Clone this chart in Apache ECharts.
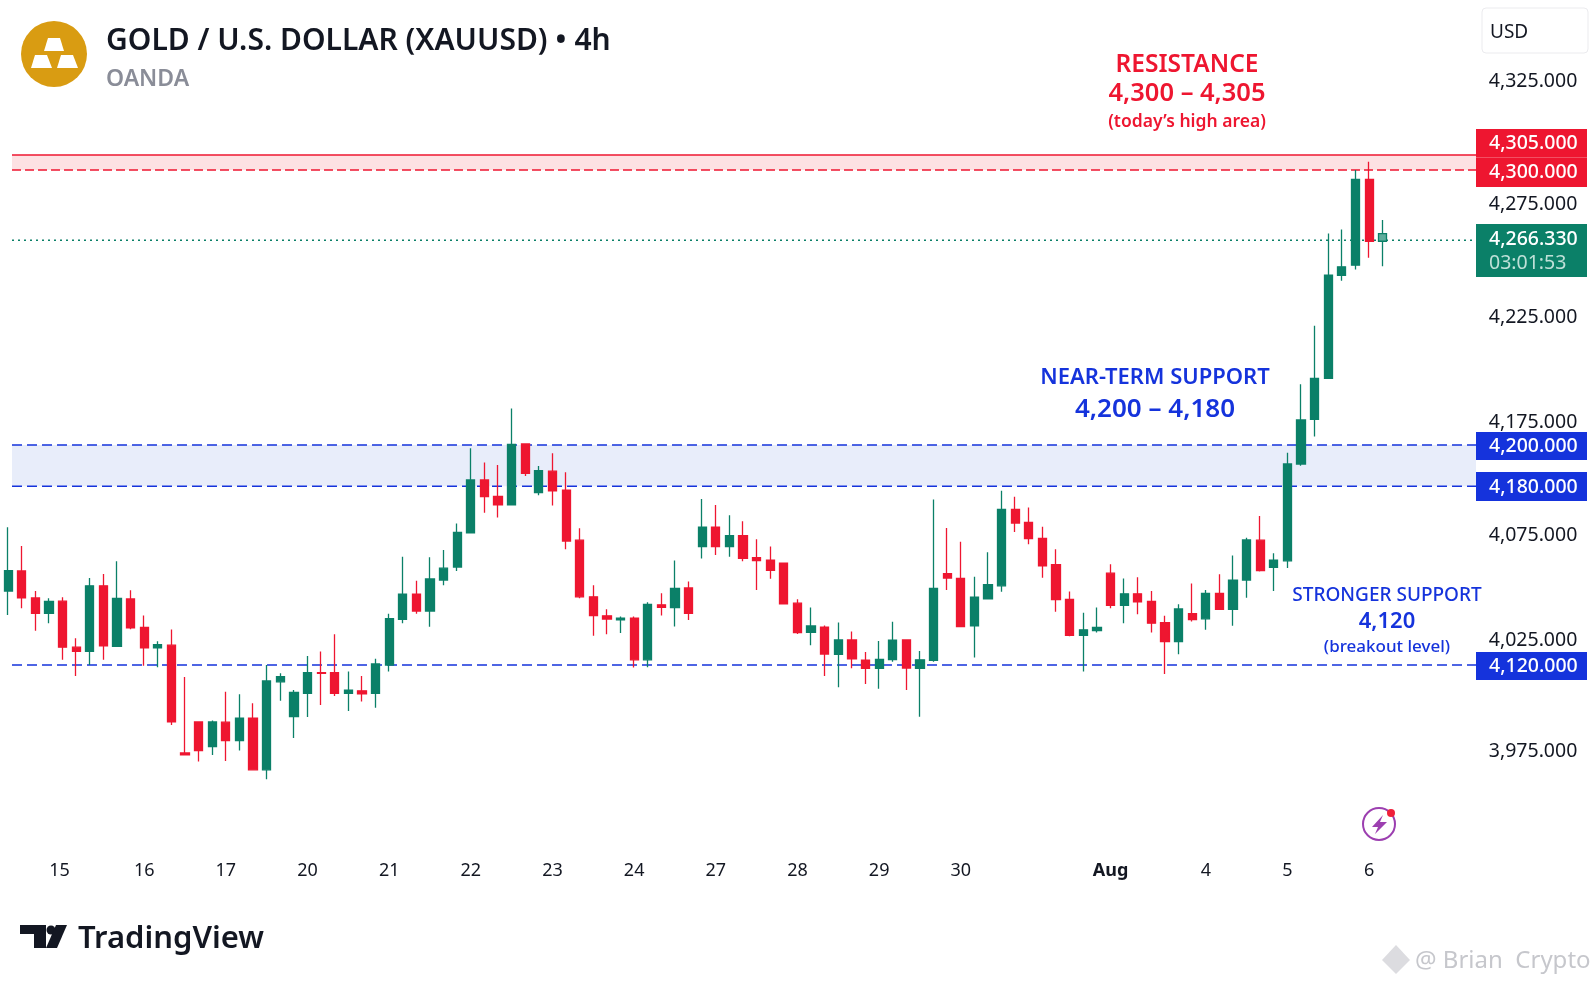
<!DOCTYPE html>
<html><head><meta charset="utf-8">
<style>html,body{margin:0;padding:0;background:#fff}#c{width:1596px;height:985px}</style>
<script src="https://cdn.jsdelivr.net/npm/echarts@6/dist/echarts.min.js"></script>
</head><body><div id="c"></div>
<script>
const opens=[4146.9,4154.2,4144.4,4138.8,4143.2,4126.5,4125,4148.8,4126.8,4144,4133.7,4126.2,4127.2,4088,4099.3,4090.3,4099.2,4092.5,4100.7,4081.9,4113.9,4101.2,4109.7,4117.2,4117.2,4109.7,4110.6,4109.7,4120,4136.6,4145.8,4139.6,4150.9,4155.6,4168.1,4187.3,4181.3,4178.2,4200.4,4182.7,4190.5,4183.6,4165.4,4144.8,4137.9,4136.4,4137,4121.9,4141.9,4140.9,4148,4163.1,4170.1,4163.1,4167,4159,4158.1,4157,4142.5,4131.9,4133.8,4123.9,4129.1,4121.8,4118.8,4122,4129.1,4118.8,4121.7,4153.2,4151.5,4134.2,4144.1,4148.8,4176.6,4171.9,4166,4156.5,4143.9,4130.8,4132.5,4153.4,4141.7,4145.9,4143.1,4135.4,4128.5,4138.7,4136.8,4146,4140.2,4150.9,4165.4,4155.5,4157.9,4193.1,4209.3,4224.2,4261.7,4265.4,4296.6,4274.1];
const closes=[4154.3,4144.4,4138.8,4143.1,4126.5,4125,4148.8,4127,4144.2,4133.5,4126.2,4127.4,4099.3,4087.3,4088.9,4099.3,4092.5,4100.7,4081.9,4114.2,4115.8,4110,4117.2,4117,4109.7,4110.9,4109.5,4120.4,4136.9,4145.8,4139.6,4151.3,4155.2,4168.2,4187.3,4181.2,4178.2,4200.2,4189.7,4190.7,4183.3,4165.1,4144.8,4138,4136.7,4137,4121.9,4142,4141,4147.9,4138.8,4170.1,4163.1,4167,4158.8,4158,4154.4,4142.2,4131.8,4134.2,4124,4129.1,4122.2,4118.8,4122,4129,4118.9,4121.9,4147.9,4151.6,4134,4144.7,4149.2,4176.6,4171.6,4166,4156.1,4143.8,4130.8,4132.8,4133.7,4141.7,4145.9,4143,4135.2,4128.5,4140.4,4136.5,4146,4140.2,4150.9,4165.5,4154.3,4158.1,4193.1,4209.1,4224.2,4261.8,4264.8,4296.6,4274.1,4276.9];
const lows=[4138.2,4140.6,4132.5,4135.2,4121.9,4116,4120,4121.9,4126.7,4133,4119.7,4119.2,4098.2,4087.3,4084.9,4087.3,4085.1,4088.9,4081.9,4078.5,4107,4093.5,4101.1,4105.5,4108.7,4103.3,4106.7,4104.5,4117.6,4135.2,4138.6,4133.9,4149,4154.2,4167.8,4175.4,4173.6,4178.2,4188.7,4181.7,4178,4162.1,4144.3,4130.6,4131.2,4131.6,4119.1,4119.2,4138,4134,4136.4,4158.7,4160,4159.4,4157.7,4147.3,4151.4,4142.2,4131.3,4127.2,4116,4111.9,4118.8,4113.1,4111.4,4121.2,4110.9,4101.2,4121.2,4147.3,4133.8,4122.7,4143.9,4146.6,4168.4,4163.9,4151.7,4139.4,4130.5,4117.6,4131.8,4140.6,4135.2,4138.5,4131.8,4116.7,4123.9,4135.8,4132.8,4140,4134.3,4144.5,4154,4146.9,4155.3,4192.5,4203.1,4224,4259.7,4263.8,4268.1,4265];
const highs=[4170.1,4163.3,4146.9,4144.3,4144.6,4129.7,4151.6,4153.1,4157.7,4147.2,4138,4128.6,4132.9,4115.6,4099.3,4099.8,4110.3,4109.4,4106.1,4120,4117,4110.9,4123.3,4124.9,4131.2,4117.6,4116,4122.3,4138.6,4159.4,4150.6,4159.2,4161.8,4171.5,4198.8,4193.6,4192.7,4213.3,4200.4,4192.4,4197,4190.1,4169.7,4149,4140.3,4137.6,4137.6,4142.8,4146.1,4158,4150.4,4180.4,4178.2,4174.5,4172.3,4165.7,4163.1,4157.3,4143.9,4140.9,4134.4,4135.5,4132.2,4124.7,4128.7,4135.7,4129.1,4125.1,4180.2,4169.8,4164.8,4152.1,4161,4183.4,4181.2,4177.3,4170.3,4162.1,4146.7,4139,4140.9,4156.6,4151.5,4151.9,4146.9,4137.9,4142.1,4149.6,4147.3,4153,4159.8,4166.3,4174.2,4160.6,4197.2,4222.1,4243.4,4276.9,4278.4,4300,4303,4281.8];

// The reference's printed price labels are not evenly spaced against its levels,
// so each label keeps its printed text and the scale height where it is shown.
const tickTexts=['4,325.000','4,275.000','4,225.000','4,175.000','4,075.000','4,025.000','3,975.000'];
const tickHeights=[4332.2,4287.3,4246.3,4208.1,4167.2,4129,4088.4];
const levelTexts=['4,305.000','4,300.000','4,266.330','4,200.000','4,180.000','4,120.000'];
const levelHeights=[4305.5,4300,4274.5,4200,4185,4120];
const zoneHeights=[[4305.5,4300],[4200,4185]];

const dayIndex=[4,10,16,22,28,34,40,46,52,58,64,70,81,88,94,100];
const dayTexts=['15','16','17','20','21','22','23','24','27','28','29','30','Aug','4','5','6'];
const slotCount=109;
const categories=[];for(let i=0;i<slotCount;i++){const k=dayIndex.indexOf(i);categories.push(k>=0?dayTexts[k]:'c'+i);}

const FONT='"Noto Sans"';
const RED='#ee1630',GREEN='#0b8068',BLUE='#1533dc',TEXT='#131722';
const levelStyle=[
 {c:RED,dash:null,fill:RED,top:129,h:28.5,ty:143.5},
 {c:RED,dash:[9,4],fill:RED,top:157.5,h:29.5,ty:172.5},
 {c:GREEN,dash:[2,4],fill:GREEN,top:224,h:53,ty:239,sub:'03:01:53'},
 {c:BLUE,dash:[10,5],fill:BLUE,top:432,h:28,ty:446.5},
 {c:BLUE,dash:[10,5],fill:BLUE,top:472,h:29,ty:487},
 {c:BLUE,dash:[10,5],fill:BLUE,top:652,h:28,ty:666.5}
];
const LINE_L=12,TAG_L=1476,TAG_W=111;

const candles=opens.map((o,i)=>{const v=[o,closes[i],lows[i],highs[i]];
  return i===opens.length-1?{value:v,itemStyle:{color:'#5fae9d'}}:v;});
const chart=echarts.init(document.getElementById('c'),null,{renderer:'canvas'});
function txt(text,x,y,size,fill,weight,align){return {type:'text',silent:true,style:{text,x,y:y+2,fill,font:(weight||400)+' '+size+'px '+FONT,textAlign:align||'center',textVerticalAlign:'middle'}};}

chart.setOption({
 animation:false,backgroundColor:'#fff',
 grid:{left:1.3,width:slotCount*13.61,top:32.5,height:825},
 xAxis:{type:'category',data:categories,boundaryGap:true,axisLine:{show:false},axisTick:{show:false},splitLine:{show:false},
  axisLabel:{interval:(i)=>dayIndex.indexOf(i)>=0,margin:4,hideOverlap:false,fontFamily:FONT,fontSize:18,color:TEXT,
   formatter:(v)=>v==='Aug'?'{b|Aug}':(v==='15'?'{a|15}':v),
   rich:{b:{fontFamily:FONT,fontSize:18,fontWeight:700,color:TEXT},a:{fontFamily:FONT,fontSize:18,color:TEXT,padding:[0,6,0,0]}}}},
 yAxis:{type:'value',min:4050,max:4350,position:'right',scale:true,axisLine:{show:false},axisTick:{show:false},splitLine:{show:false},
  axisLabel:{customValues:tickHeights,margin:4,align:'left',fontFamily:FONT,fontSize:19.5,color:TEXT,
   formatter:(v)=>{const k=tickHeights.indexOf(v);return k>=0?tickTexts[k]:'';}}},
 series:[
  {type:'custom',name:'zones',z:1,clip:false,silent:true,encode:{x:0,y:1},
   data:zoneHeights.map((z,i)=>[0,z[0],z[1],i]),
   renderItem:(p,api)=>{const a=api.coord([0,api.value(1)]),b=api.coord([0,api.value(2)]);
     return {type:'rect',shape:{x:LINE_L,y:a[1],width:TAG_L-LINE_L,height:b[1]-a[1]},style:{fill:api.value(3)===0?'#fde1e3':'#e8edfa'}};}},
  {type:'custom',name:'levels',z:2,clip:false,silent:true,encode:{x:0,y:1},
   data:levelHeights.map(v=>[0,v]),
   renderItem:(p,api)=>{const s=levelStyle[p.dataIndex],y=api.coord([0,api.value(1)])[1];
     return {type:'line',shape:{x1:LINE_L,y1:y,x2:TAG_L,y2:y},style:{stroke:s.c,lineWidth:1.5,lineDash:s.dash||undefined,fill:null}};}},
  {type:'candlestick',name:'XAUUSD',z:3,clip:false,silent:true,barWidth:8.7,data:candles,
   itemStyle:{color:GREEN,color0:RED,borderColor:GREEN,borderColor0:RED,borderWidth:1.3}},
  {type:'custom',name:'tags',z:4,clip:false,silent:true,encode:{x:0,y:1},
   data:levelHeights.map(v=>[0,v]),
   renderItem:(p,api)=>{const s=levelStyle[p.dataIndex];
     const kids=[{type:'rect',shape:{x:TAG_L,y:s.top,width:TAG_W,height:s.h},style:{fill:s.fill}},
       {type:'text',style:{text:levelTexts[p.dataIndex],x:1489,y:s.ty,fill:'#fff',font:'500 19.5px '+FONT,textAlign:'left',textVerticalAlign:'middle'}}];
     if(s.sub)kids.push({type:'text',style:{text:s.sub,x:1489,y:s.ty+24,fill:'#bfe0d8',font:'400 19.5px '+FONT,textAlign:'left',textVerticalAlign:'middle'}});
     return {type:'group',children:kids};}}
 ],
 graphic:{elements:[
  {type:'circle',silent:true,shape:{cx:54,cy:54,r:33},style:{fill:'#d99c12'}},
  {type:'polygon',silent:true,shape:{points:[[48,38],[60,38],[64,51],[44,51]]},style:{fill:'#fff'}},
  {type:'polygon',silent:true,shape:{points:[[35,55],[47,55],[52,68],[31,68]]},style:{fill:'#fff'}},
  {type:'polygon',silent:true,shape:{points:[[61,55],[73,55],[78,68],[57,68]]},style:{fill:'#fff'}},
  txt('GOLD / U.S. DOLLAR (XAUUSD) • 4h',106,39,30,TEXT,600,'left'),
  txt('OANDA',106,77,23,'#8a8d98',600,'left'),
  {type:'rect',silent:true,shape:{x:1482,y:8,width:106,height:45,r:4},style:{fill:'#fff',stroke:'#ebebee',lineWidth:1}},
  txt('USD',1490,30.5,19,TEXT,400,'left'),
  txt('RESISTANCE',1187,63,24.5,RED,600),
  txt('4,300 – 4,305',1187,92,25.5,RED,600),
  txt('(today’s high area)',1187,120,17.5,RED,600),
  txt('NEAR-TERM SUPPORT',1155,376,22,BLUE,600),
  txt('4,200 – 4,180',1155,408,26,BLUE,600),
  txt('STRONGER SUPPORT',1387,594,19,BLUE,500),
  txt('4,120',1387,620,22,BLUE,600),
  txt('(breakout level)',1387,645.5,17,BLUE,500),
  {type:'polygon',silent:true,shape:{points:[[20,925],[46,925],[46,948],[34,948],[34,934],[20,934]]},style:{fill:TEXT}},
  {type:'circle',silent:true,shape:{cx:51,cy:930,r:4.5},style:{fill:TEXT}},
  {type:'polygon',silent:true,shape:{points:[[56,925],[67,925],[57,948],[46,948]]},style:{fill:TEXT}},
  txt('TradingView',78,937,31,TEXT,600,'left'),
  {type:'arc',silent:true,shape:{cx:1379,cy:824,r:16,startAngle:0,endAngle:Math.PI*2},style:{stroke:'#9c3fb0',lineWidth:2,fill:null}},
  {type:'polygon',silent:true,shape:{points:[[1383,815],[1372,827],[1378,827],[1375,834],[1387,822],[1380,822]]},style:{fill:'#9c3fb0'}},
  {type:'circle',silent:true,shape:{cx:1391,cy:813,r:4},style:{fill:'#f0203a'}},
  {type:'polygon',silent:true,shape:{points:[[1396,945],[1410,960],[1396,974],[1382,960]]},style:{fill:'#dcdce0'}},
  txt('@ Brian  Crypto',1415,959,24,'#c6c7cc',400,'left')
 ]}
});
</script></body></html>
